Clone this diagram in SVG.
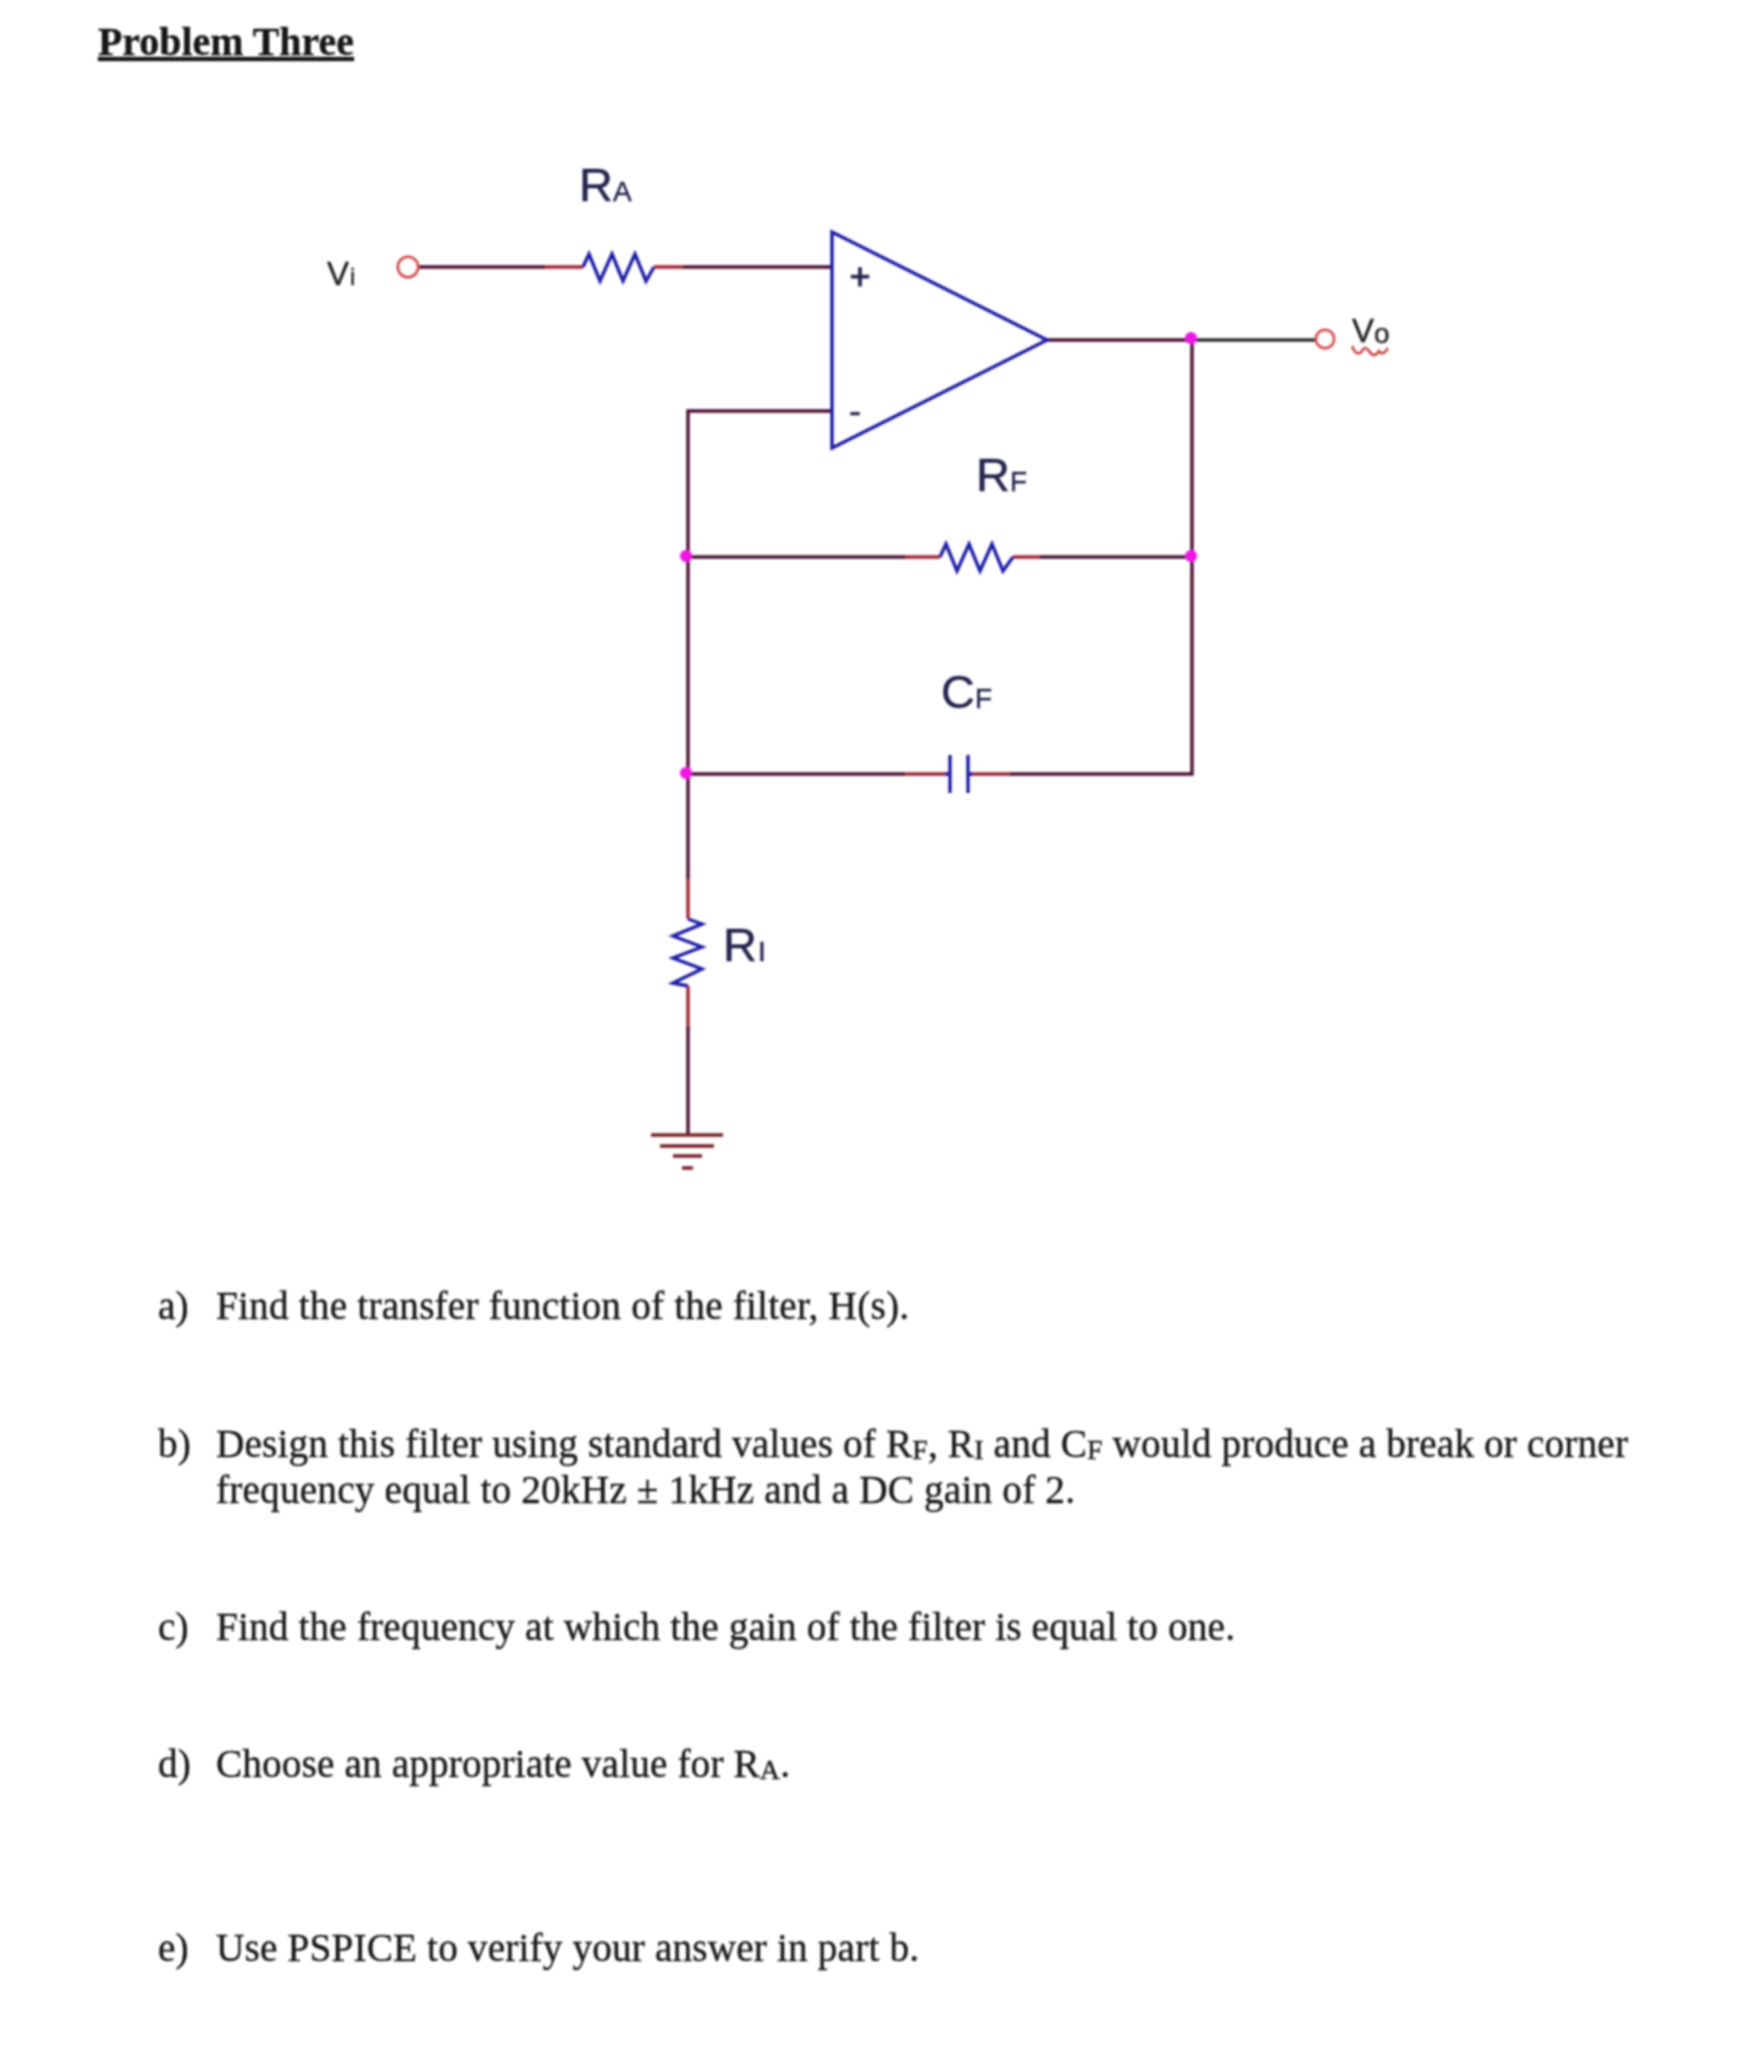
<svg xmlns="http://www.w3.org/2000/svg" width="1753" height="2046" viewBox="0 0 1753 2046">
<defs>
<style>
.wire{fill:none;stroke:#4a1030;stroke-width:3.4}
.lead{fill:none;stroke:#a02832;stroke-width:3.4}
.gray{fill:none;stroke:#2c2c2c;stroke-width:3.4}
.part{fill:none;stroke:#1c1ca8;stroke-width:3.4;stroke-linejoin:miter}
.term{fill:#fff;stroke:#d8494c;stroke-width:3}
.dot{fill:#f012e6}
.lab{font-family:"Liberation Sans",Arial,sans-serif;font-size:47px;fill:#24244e;stroke:#24244e;stroke-width:.4px}
.sm{font-size:28px}
.tx{font-family:"Liberation Serif","Times New Roman",serif;font-size:39.3px;fill:#161616;stroke:#161616;stroke-width:.35px}
.sub{font-size:28px}
</style>
<filter id="soft" x="-2%" y="-2%" width="104%" height="104%"><feGaussianBlur stdDeviation="0.8"/></filter>
</defs>
<rect width="1753" height="2046" fill="#fff"/>
<g filter="url(#soft)">
<g id="connectors">
<path class="wire" d="M418 267H545M683 267H832"/>
<path class="lead" d="M545 267H583M654 267H683"/>
<path class="wire" d="M832 411H688V879M688 1026V1135"/>
<path class="lead" d="M688 879V919M688 986V1026"/>
<path class="wire" d="M1047 340H1192V774H1010M688 557H905M1040 557H1192M688 774H905"/>
<path class="lead" d="M905 557H940M1013 557H1040M905 774H947M971 774H1010"/>
<path class="gray" d="M1192 340H1315"/>
</g>
<g id="vi-terminal"><circle class="term" cx="408" cy="267" r="10"/><text class="lab" style="font-size:33px;fill:#222;stroke:#222" x="327" y="285">V<tspan style="font-size:24px" dx="1">i</tspan></text></g>
<g id="ra"><path class="part" d="M583 267L589 254L600 281L612 254L623 281L635 254L646 281L654 267"/><text class="lab" x="579" y="201">R<tspan class="sm">A</tspan></text></g>
<g id="opamp"><path class="part" d="M832 232V448L1047 340Z"/>
<text class="lab" style="font-size:36px;stroke-width:1px" x="860" y="289" text-anchor="middle">+</text>
<text class="lab" style="font-size:36px" x="855" y="423" text-anchor="middle">-</text></g>
<g id="vo-terminal"><circle class="term" cx="1325" cy="339" r="9"/><text class="lab" style="font-size:33px;fill:#222;stroke:#222" x="1352" y="342">V<tspan style="font-size:28px" dy="1">o</tspan></text>
<path d="M1352 346q5 12 10 5q3-6 7 0q5 8 10 0q3 6 9-3" fill="none" stroke="#c8403f" stroke-width="2.4"/></g>
<g id="rf"><path class="part" d="M940 557L946 544L957 571L969 544L980 571L992 544L1003 571L1013 557"/><text class="lab" x="976" y="491">R<tspan class="sm">F</tspan></text></g>
<g id="cf"><path class="part" d="M945 774H950M950 755V793M968 755V793M968 774H973"/><text class="lab" x="941" y="708">C<tspan class="sm">F</tspan></text></g>
<g id="ri"><path class="part" d="M688 919L702 924L673 936L702 947L673 958L702 969L673 983L688 986"/><text class="lab" x="723" y="961">R<tspan class="sm" dx="1">I</tspan></text></g>
<g id="ground"><path class="wire" style="stroke:#7a2028" d="M651 1135H723M660 1146H714M673 1156H702M682 1168H693"/></g>
<g id="j-out"><circle class="dot" cx="1191" cy="338" r="6"/></g>
<g id="j-rf-right"><circle class="dot" cx="1191" cy="556" r="6"/></g>
<g id="j-rf-left"><circle class="dot" cx="686" cy="556" r="6"/></g>
<g id="j-cf-left"><circle class="dot" cx="686" cy="773" r="6"/></g>
<g id="text">
<text class="tx" x="98" y="55" style="font-weight:bold;font-size:39.9px;text-decoration:underline">Problem Three</text>
<text class="tx" x="158" y="1319">a)</text>
<text class="tx" x="216" y="1319" textLength="693">Find the transfer function of the filter, H(s).</text>
<text class="tx" x="158" y="1457">b)</text>
<text class="tx" x="216" y="1457" textLength="1412">Design this filter using standard values of R<tspan class="sub" dy="2">F</tspan><tspan dy="-2">, R</tspan><tspan class="sub" dy="2">I</tspan><tspan dy="-2"> and C</tspan><tspan class="sub" dy="2">F</tspan><tspan dy="-2"> would produce a break or corner</tspan></text>
<text class="tx" x="216" y="1503" textLength="859">frequency equal to 20kHz ± 1kHz and a DC gain of 2.</text>
<text class="tx" x="158" y="1640">c)</text>
<text class="tx" x="216" y="1640" textLength="1019">Find the frequency at which the gain of the filter is equal to one.</text>
<text class="tx" x="158" y="1777">d)</text>
<text class="tx" x="216" y="1777" textLength="574">Choose an appropriate value for R<tspan class="sub" dy="2">A</tspan><tspan dy="-2">.</tspan></text>
<text class="tx" x="158" y="1961">e)</text>
<text class="tx" x="216" y="1961" textLength="703">Use PSPICE to verify your answer in part b.</text>
</g>
</g>
</svg>
